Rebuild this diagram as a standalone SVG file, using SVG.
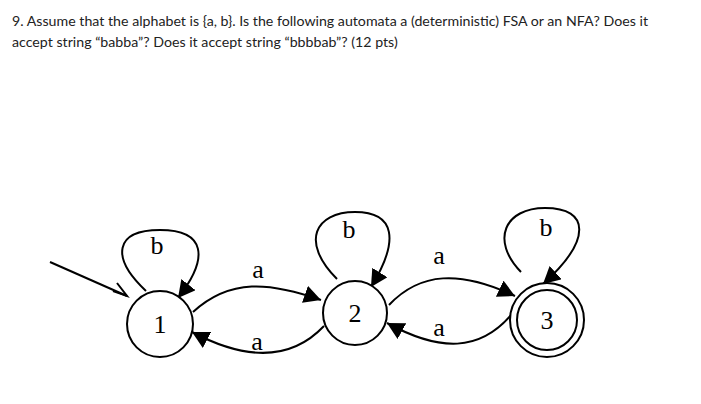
<svg xmlns="http://www.w3.org/2000/svg" width="701" height="404" viewBox="0 0 701 404">
<style>
.q{font-family:"Lato","Liberation Sans",sans-serif;font-size:14.2px;fill:#222}
.l{font-family:"Liberation Serif",serif;font-size:26px;fill:#000;text-anchor:middle}
.n{fill:#fff;stroke:#000;stroke-width:2}
.e{fill:none;stroke:#000;stroke-width:2}
</style>
<defs>
<marker id="ah2" markerWidth="18" markerHeight="18" refX="17" refY="9" orient="auto" markerUnits="userSpaceOnUse" viewBox="0 0 18 18"><path d="M0,0 L17,9 L0,18 z" fill="#000"/></marker>
</defs>
<rect width="701" height="404" fill="#fff"/>
<text class="q" x="12" y="26">9. Assume that the alphabet is {a, b}. Is the following automata a (deterministic) FSA or an NFA? Does it</text>
<text class="q" x="12" y="47">accept string “babba”? Does it accept string “bbbbab”? (12 pts)</text>
<g id="connectors">
<path class="e" d="M50,262 L127,296"/>
<path class="e" d="M113,291 L127,296 L117,283"/>
<path class="e" d="M146,291 C110,257 115,230 160,230 C205,230 210,257 178,298" marker-end="url(#ah2)"/>
<path class="e" d="M193,312 C230,278 270,282 321,300" marker-end="url(#ah2)"/>
<path class="e" d="M324,326 C290,362 245,360 192,332" marker-end="url(#ah2)"/>
<path class="e" d="M337,279 C300,242 315,212 355,212 C395,212 400,240 371,287" marker-end="url(#ah2)"/>
<path class="e" d="M389,305 C420,272 460,270 515,296" marker-end="url(#ah2)"/>
<path class="e" d="M512,314 C480,352 440,352 387,323" marker-end="url(#ah2)"/>
<path class="e" d="M521,272 C490,240 505,208 545,208 C590,208 592,240 543,284" marker-end="url(#ah2)"/>
</g>
<g class="labels">
<text class="l" x="157" y="254">b</text>
<text class="l" x="258" y="278">a</text>
<text class="l" x="257" y="350">a</text>
<text class="l" x="349" y="238">b</text>
<text class="l" x="439" y="264">a</text>
<text class="l" x="439" y="336">a</text>
<text class="l" x="546" y="236">b</text>
</g>
<g id="node1"><circle class="n" cx="160" cy="324" r="33"/><text class="l" x="160" y="333">1</text></g>
<g id="node2"><circle class="n" cx="355" cy="313" r="32"/><text class="l" x="355" y="322">2</text></g>
<g id="node3"><circle class="n" cx="547" cy="320" r="37"/><circle class="n" cx="547" cy="320" r="30"/><text class="l" x="547" y="329">3</text></g>
</svg>
